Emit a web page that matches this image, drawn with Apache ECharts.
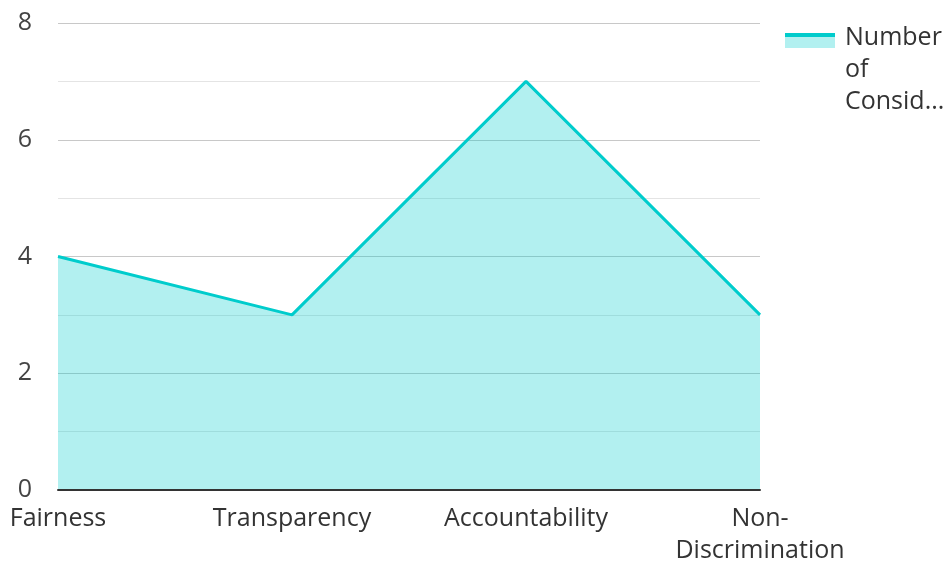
<!DOCTYPE html>
<html><head><meta charset="utf-8">
<script src="https://cdn.jsdelivr.net/npm/echarts@6/dist/echarts.min.js"></script>
<style>html,body{margin:0;padding:0;background:#fff}#c{width:946px;height:562px}</style>
</head><body><div id="c"></div>
<script>
const categories = ['Fairness', 'Transparency', 'Accountability', 'Non-Discrimination'];
const seriesName = 'Number of Considerations';
const values = [4, 3, 7, 3];
const yTicks = [0, 2, 4, 6, 8];

const chart = echarts.init(document.getElementById('c'), null, {renderer: 'canvas'});
const font = '"Open Sans", "Noto Sans", sans-serif';
const lineColor = '#00cccc';
const areaColor = 'rgba(0,204,204,0.3)';
chart.setOption({
  animation: false,
  grid: {left: 58, right: 186, top: 23, bottom: 72, containLabel: false, outerBoundsMode: 'none'},
  legend: {
    data: [seriesName],
    left: 785, top: 22, padding: 0,
    orient: 'vertical',
    itemWidth: 50, itemHeight: 96,
    symbolKeepAspect: false,
    icon: 'path://M0 0 L0.01 0 L0 0.01 Z M0 15 L50 15 L50 26 L0 26 Z M0 96 L0.01 96 L0 95.99 Z',
    itemStyle: {color: areaColor, borderWidth: 0, opacity: 1},
    formatter: function () { return 'Number\nof\nConsid...'; },
    textStyle: {fontFamily: font, fontSize: 25, color: '#333', lineHeight: 32, padding: [0, 0, 0, 5]}
  },
  graphic: [{type: 'rect', left: 785, top: 33, shape: {width: 50, height: 4}, style: {fill: lineColor}, z: 100}],
  xAxis: {
    type: 'category', data: categories, boundaryGap: false,
    axisLine: {lineStyle: {color: '#333', width: 2}},
    axisTick: {show: false},
    axisLabel: {
      fontFamily: font, fontSize: 25, color: '#333', margin: 13, lineHeight: 32,
      formatter: v => v.replace('-', '-\n')
    },
    z: 5
  },
  yAxis: {
    type: 'value', min: yTicks[0], max: yTicks[yTicks.length - 1], interval: 2,
    axisLine: {show: false}, axisTick: {show: false},
    axisLabel: {fontFamily: font, fontSize: 25, color: '#444', margin: 26},
    splitLine: {lineStyle: {color: '#c8c8c8', width: 1}},
    minorTick: {show: false, splitNumber: 2},
    minorSplitLine: {show: true, lineStyle: {color: '#e4e4e4', width: 1}}
  },
  series: [{
    name: seriesName, type: 'line', data: values,
    symbol: 'none',
    lineStyle: {color: lineColor, width: 3},
    itemStyle: {color: lineColor},
    areaStyle: {color: areaColor, opacity: 1}
  }]
});
</script></body></html>
